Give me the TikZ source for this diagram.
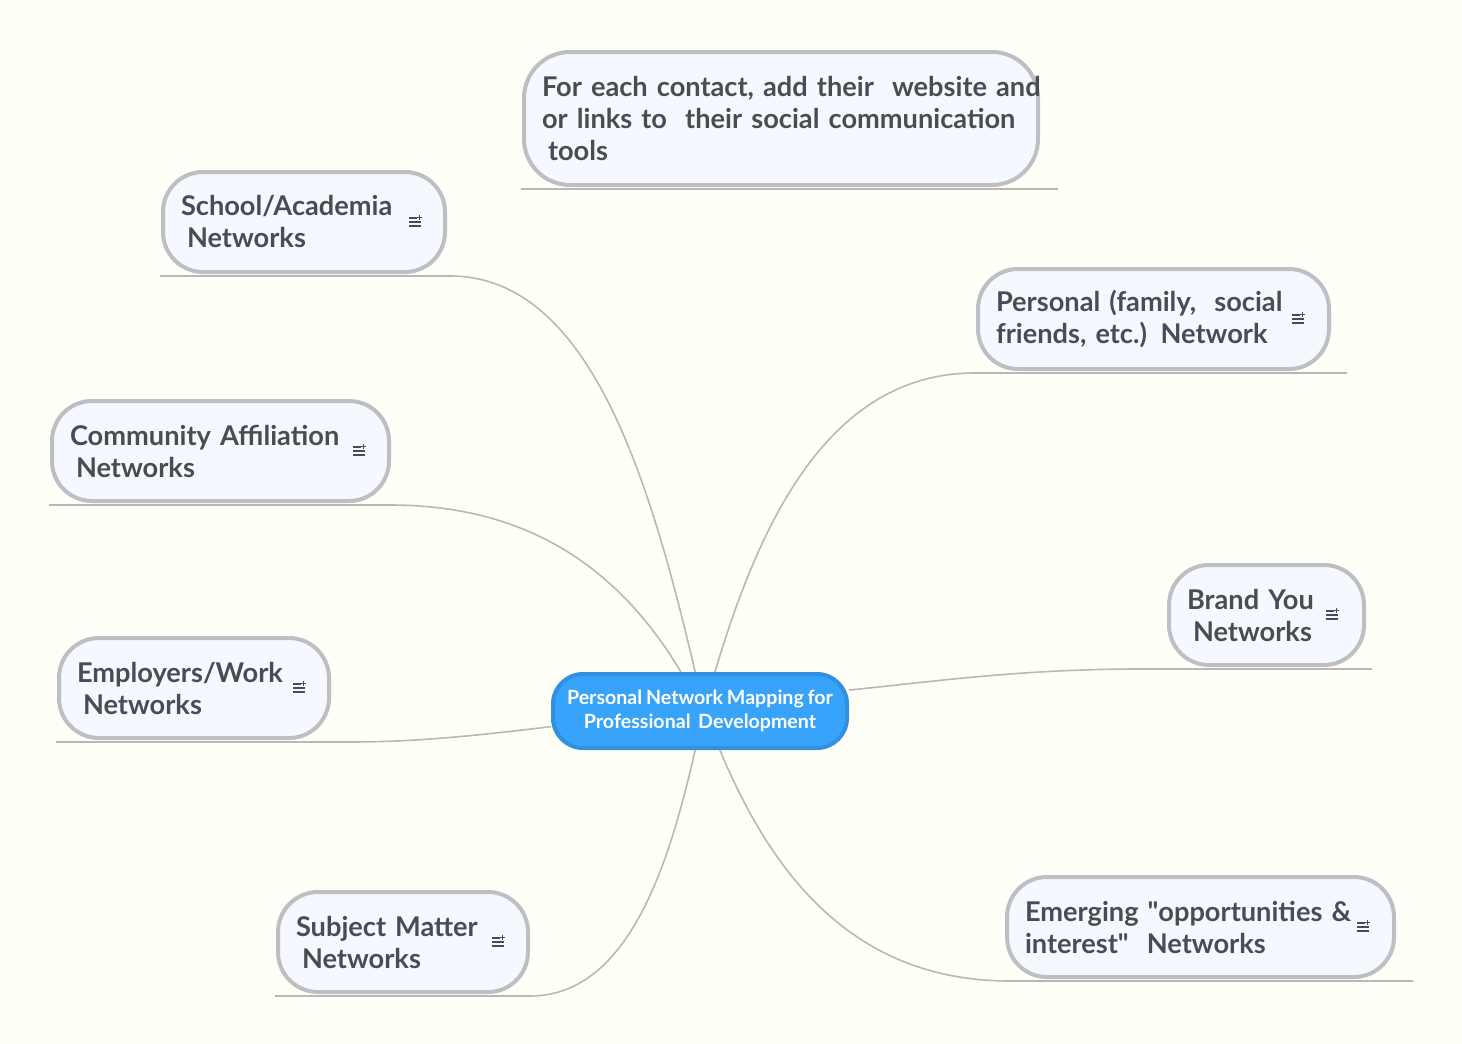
\documentclass[tikz,border=0pt]{standalone}
\usepackage{fontspec}
\setmainfont[WordSpace=0.8]{Lato}
\definecolor{paper}{HTML}{FFFFF8}
\definecolor{branchline}{HTML}{BAB8B6}
\definecolor{topicdraw}{HTML}{BDBFC2}
\definecolor{topicfill}{HTML}{F5F9FF}
\definecolor{topictext}{HTML}{4A4C50}
\definecolor{rootdraw}{HTML}{3191E0}
\definecolor{rootfill}{HTML}{38A3FB}
\newcommand{\lead}{\hspace*{3pt}}
\tikzset{
  noteicon/.pic={
    \draw[topictext,line width=0.7pt] (-7,-3) -- (1,-3) (-7,1) -- (5,1) (-7,5) -- (5,5);
    \draw[topictext,line width=0.5pt] (0.5,-4) -- (5.5,-4) (3,-6.5) -- (3,-1.5);
  }
}
\begin{document}
\begin{tikzpicture}[x=0.5pt,y=-0.5pt]
  \tikzstyle{topic}=[rectangle,anchor=north west,draw=topicdraw,fill=topicfill,line width=2pt,rounded corners=20pt,
    text=topictext,font=\fontsize{13.6}{16}\selectfont\bfseries,align=left,inner xsep=9pt,inner ysep=0pt,minimum height=50pt]
  \tikzstyle{root}=[rectangle,draw=rootdraw,fill=rootfill,line width=2pt,rounded corners=15pt,text=white,
    font=\fontsize{9.8}{12}\selectfont\bfseries,align=center,minimum width=147pt,minimum height=37pt,inner sep=0pt]
  \tikzstyle{branch}=[draw=branchline,line width=0.8pt]

  \useasboundingbox (0,0) rectangle (1462,1044);
  \fill[paper] (0,0) rectangle (1462,1044);

  \node [root] (centre) at (700,711) {Personal Network Mapping for\\Professional\ \ Development};

  \node [topic,text width=239pt,minimum height=66.5pt,rounded corners=23pt] (contact) at (522,50)
    {\mbox{For each contact, add their\ \ website and}\\or links to\ \ their social communication\\\lead tools};
  \node [topic,text width=123pt] (school) at (161,170) {School/Academia\\\lead Networks};
  \node [topic,text width=150.5pt] (community) at (50,399) {Community Affiliation\\\lead Networks};
  \node [topic,text width=117pt] (employers) at (57,636) {Employers/Work\\\lead Networks};
  \node [topic,text width=107pt] (subject) at (276,890) {Subject Matter\\\lead Networks};
  \node [topic,text width=157.5pt] (personal) at (976,267) {Personal (family,\ \ social\\friends, etc.) Network};
  \node [topic,text width=79.5pt] (brand) at (1167,563) {Brand You\\\lead Networks};
  \node [topic,text width=175.5pt] (emerging) at (1005,875) {Emerging \textquotedbl opportunities \&\\interest\textquotedbl\ \ Networks};

  \pic at (416,221) {noteicon};
  \pic at (360,450) {noteicon};
  \pic at (300,687) {noteicon};
  \pic at (499,941) {noteicon};
  \pic at (1299,318) {noteicon};
  \pic at (1333,614) {noteicon};
  \pic at (1364,926) {noteicon};

  \coordinate (contactl) at (521,189);
  \coordinate (contactr) at (1058,189);
  \coordinate (schoolend) at (160,276);
  \coordinate (schoolbend) at (450,276);
  \coordinate (communityend) at (49,505);
  \coordinate (communitybend) at (390,505);
  \coordinate (employersend) at (56,742);
  \coordinate (employersbend) at (350,742);
  \coordinate (subjectend) at (275,996);
  \coordinate (subjectbend) at (530,996);
  \coordinate (personalend) at (1347,373);
  \coordinate (personalbend) at (975,373);
  \coordinate (brandend) at (1372,669);
  \coordinate (brandbend) at (1140,669);
  \coordinate (emergingend) at (1413,981);
  \coordinate (emergingbend) at (1010,981);

  \path[branch] (contactl) -- (contactr);
  \path[branch] (schoolend) -- (schoolbend) .. controls (590,276) and (650,480) .. (centre.97);
  \path[branch] (communityend) -- (communitybend) .. controls (530,505) and (620,570) .. (centre.116);
  \path[branch] (employersend) -- (employersbend) .. controls (420,742) and (480,735) .. (centre.186);
  \path[branch] (subjectend) -- (subjectbend) .. controls (630,996) and (670,860) .. (centre.263);
  \path[branch] (personalend) -- (personalbend) .. controls (830,373) and (760,520) .. (centre.69);
  \path[branch] (brandend) -- (brandbend) .. controls (1020,669) and (930,682) .. (centre.8);
  \path[branch] (emergingend) -- (emergingbend) .. controls (850,981) and (770,870) .. (centre.297);
\end{tikzpicture}
\end{document}
